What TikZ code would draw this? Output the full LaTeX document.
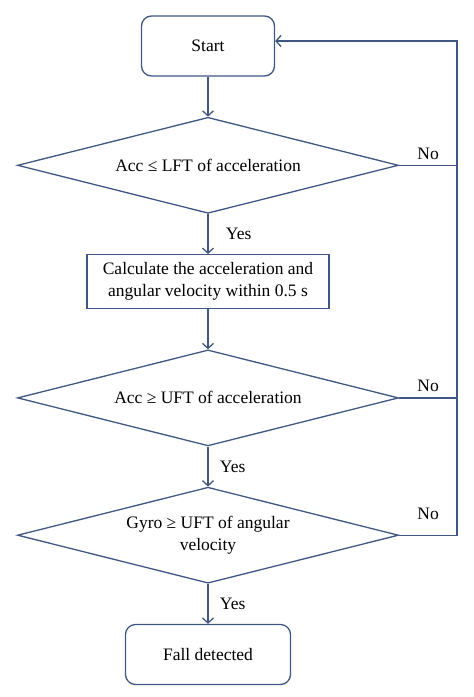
\documentclass[tikz,border=0pt]{standalone}
\usepackage{fontspec}
\setmainfont{Liberation Serif}
\usetikzlibrary{shapes.geometric, arrows.meta, positioning}

\definecolor{flowline}{HTML}{3F5782}

\begin{document}
\begin{tikzpicture}[
    x=1pt, y=1pt,
    node distance=40pt,
    font=\fontsize{17.5}{22}\selectfont,
    terminal/.style={rectangle, draw=flowline, line width=1.3pt, rounded corners=10pt, minimum width=133pt, minimum height=60pt},
    process/.style={rectangle, draw=flowline, line width=1.3pt, minimum width=242pt, minimum height=54pt, align=center},
    decision/.style={diamond, aspect=4, draw=flowline, line width=1.3pt, minimum width=381pt, minimum height=96pt, inner sep=0pt, align=center},
    line/.style={draw=flowline, line width=1.3pt, -{Straight Barb[length=5pt, width=11pt]}},
    rail/.style={draw=flowline, line width=1.3pt}
]
    \useasboundingbox (0,0) rectangle (474,-697);

    % Nodes
    \node[terminal] (start) at (208,-46) {Start};
    \node[decision, below=of start] (lowacc) {Acc ≤ LFT of acceleration};
    \node[process, below=of lowacc] (calc) {Calculate the acceleration and\\angular velocity within 0.5 s};
    \node[decision, below=of calc] (highacc) {Acc ≥ UFT of acceleration};
    \node[decision, below=of highacc] (highgyro) {Gyro ≥ UFT of angular\\velocity};
    \node[terminal, minimum width=165pt, below=of highgyro] (fall) {Fall detected};

    \coordinate (back) at (457,-41);

    % Arrows
    \path[line] (start) -- (lowacc);
    \path[line] (lowacc) -- node[midway, right, xshift=14pt] {Yes} (calc);
    \path[line] (calc) -- (highacc);
    \path[line] (highacc) -- node[midway, right, xshift=8pt] {Yes} (highgyro);
    \path[line] (highgyro) -- node[midway, right, xshift=8pt] {Yes} (fall);

    % No branches back to start
    \path[rail] (lowacc.east) -- node[midway, above, yshift=2pt] {No} (lowacc.east -| back);
    \path[rail] (highacc.east) -- node[midway, above, yshift=2pt] {No} (highacc.east -| back);
    \path[line] (highgyro.east) -- node[midway, above, yshift=12pt] {No} (highgyro.east -| back) -- (back) -- (back -| start.east);

\end{tikzpicture}
\end{document}
